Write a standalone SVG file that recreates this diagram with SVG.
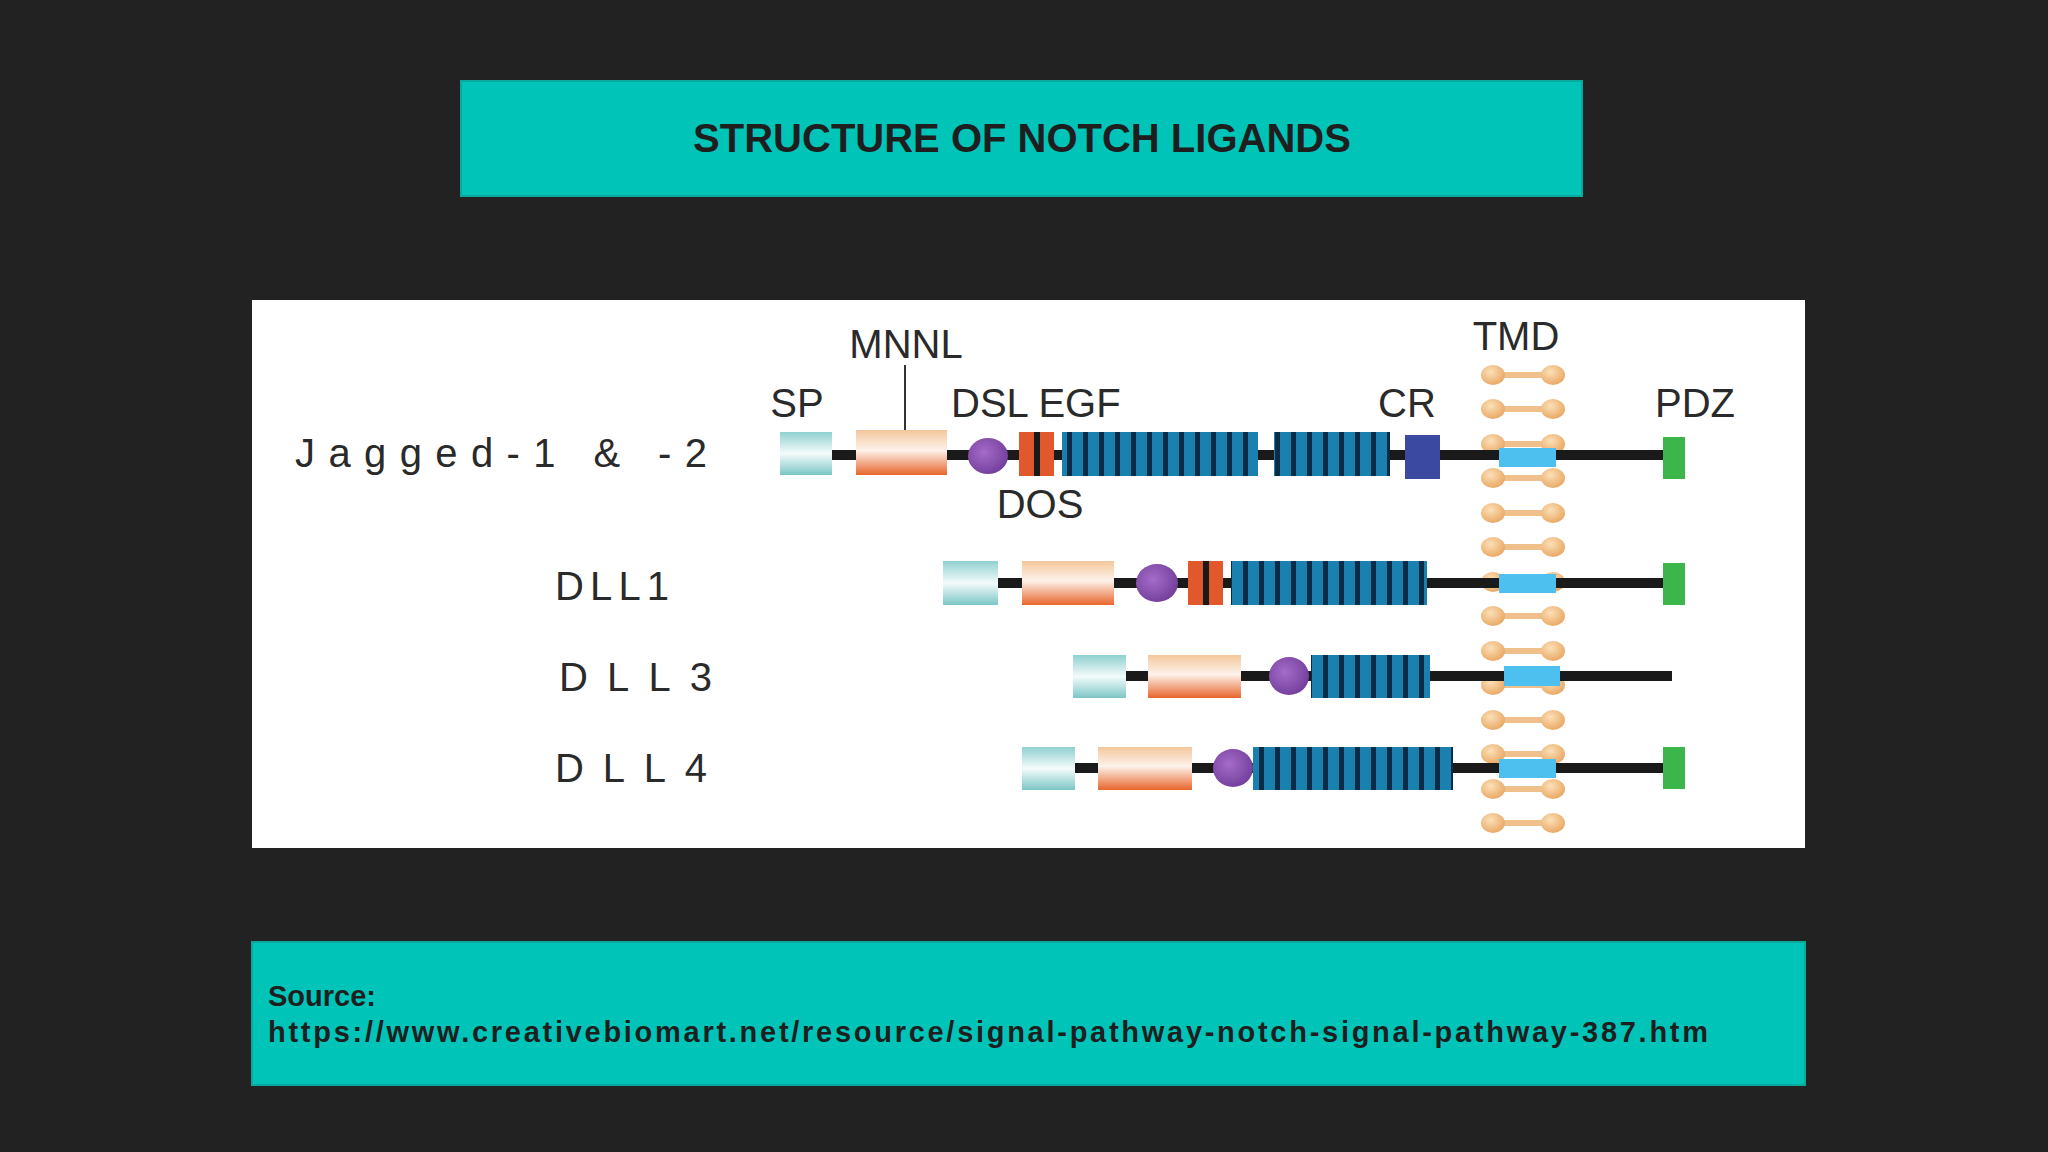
<svg xmlns="http://www.w3.org/2000/svg" width="2048" height="1152" viewBox="0 0 2048 1152">
<defs>
<linearGradient id="gSP" x1="0" y1="0" x2="0" y2="1"><stop offset="0" stop-color="#8fd0cf"/><stop offset="0.5" stop-color="#f4fbfb"/><stop offset="1" stop-color="#7cc6c6"/></linearGradient>
<linearGradient id="gMN" x1="0" y1="0" x2="0" y2="1"><stop offset="0" stop-color="#f4c79c"/><stop offset="0.45" stop-color="#fdf2ea"/><stop offset="1" stop-color="#e8652c"/></linearGradient>
<radialGradient id="gDOS" cx="0.4" cy="0.4" r="0.7"><stop offset="0" stop-color="#a56cc8"/><stop offset="1" stop-color="#6e3a98"/></radialGradient>
<pattern id="stripes" patternUnits="userSpaceOnUse" width="16" height="10"><rect width="16" height="10" fill="#1a80b0"/><rect x="11" width="5" height="10" fill="#0b2c44"/></pattern>
<radialGradient id="gBall" cx="0.4" cy="0.35" r="0.7"><stop offset="0" stop-color="#fbe0b8"/><stop offset="1" stop-color="#e9a560"/></radialGradient>
<g id="lipid"><rect x="1493" y="-3" width="60" height="6" fill="#f0c08c"/><ellipse cx="1493" cy="0" rx="12" ry="10" fill="url(#gBall)"/><ellipse cx="1553" cy="0" rx="12" ry="10" fill="url(#gBall)"/></g>
</defs>
<style>
.lbl{font-family:"Liberation Sans",Arial,sans-serif;font-size:40px;fill:#2a2a2a}
.bb{fill:#1a1a1a}
.ttl{font-family:"Liberation Sans",Arial,sans-serif;font-weight:bold;fill:#1e1e1e}
</style>
<rect width="2048" height="1152" fill="#222223"/>
<g id="title"><rect x="461" y="81" width="1121" height="115" fill="#00c4b8" stroke="#0aa99e" stroke-width="2"/><text class="ttl" x="1022" y="152" font-size="40" text-anchor="middle">STRUCTURE OF NOTCH LIGANDS</text></g>
<g id="panel"><rect x="252" y="300" width="1553" height="548" fill="#ffffff"/></g>
<g id="membrane">
<use href="#lipid" y="375"/><use href="#lipid" y="409"/><use href="#lipid" y="444"/><use href="#lipid" y="478"/><use href="#lipid" y="513"/><use href="#lipid" y="547"/><use href="#lipid" y="582"/><use href="#lipid" y="616"/><use href="#lipid" y="651"/><use href="#lipid" y="685"/><use href="#lipid" y="720"/><use href="#lipid" y="754"/><use href="#lipid" y="789"/><use href="#lipid" y="823"/>
</g>
<g id="labels">
<text class="lbl" x="906" y="358" text-anchor="middle">MNNL</text>
<line x1="905" y1="365" x2="905" y2="430" stroke="#333" stroke-width="2"/>
<text class="lbl" x="1516" y="350" text-anchor="middle">TMD</text>
<text class="lbl" x="797" y="417" text-anchor="middle">SP</text>
<text class="lbl" x="951" y="417">DSL EGF</text>
<text class="lbl" x="1407" y="417" text-anchor="middle">CR</text>
<text class="lbl" x="1695" y="417" text-anchor="middle">PDZ</text>
<text class="lbl" x="1040" y="518" text-anchor="middle">DOS</text>
<text class="lbl" x="295" y="467" textLength="412">Jagged-1 &amp; -2</text>
<text class="lbl" x="555" y="600" textLength="114">DLL1</text>
<text class="lbl" x="559" y="691" textLength="153">DLL3</text>
<text class="lbl" x="555" y="782" textLength="152">DLL4</text>
</g>
<g id="jagged">
<rect class="bb" x="820" y="450" width="845" height="10"/>
<rect x="780" y="432" width="52" height="43" fill="url(#gSP)"/>
<rect x="856" y="430" width="91" height="45" fill="url(#gMN)"/>
<ellipse cx="988" cy="456" rx="20" ry="18" fill="url(#gDOS)"/>
<rect x="1019" y="432" width="35" height="44" fill="#e0582c"/><rect x="1034" y="432" width="6" height="44" fill="#1a1a1a"/>
<rect x="1062" y="432" width="196" height="44" fill="url(#stripes)"/>
<rect x="1274" y="432" width="116" height="44" fill="url(#stripes)"/>
<rect x="1405" y="435" width="35" height="44" fill="#3b4aa0"/>
<rect x="1499" y="448" width="57" height="19" fill="#4dc0ef"/>
<rect x="1663" y="437" width="22" height="42" fill="#3cb54a"/>
</g>
<g id="dll1">
<rect class="bb" x="990" y="578" width="675" height="10"/>
<rect x="943" y="561" width="55" height="44" fill="url(#gSP)"/>
<rect x="1022" y="561" width="92" height="44" fill="url(#gMN)"/>
<ellipse cx="1157" cy="583" rx="21" ry="19" fill="url(#gDOS)"/>
<rect x="1188" y="561" width="35" height="44" fill="#e0582c"/><rect x="1203" y="561" width="6" height="44" fill="#1a1a1a"/>
<rect x="1231" y="561" width="196" height="44" fill="url(#stripes)"/>
<rect x="1499" y="574" width="57" height="19" fill="#4dc0ef"/>
<rect x="1663" y="563" width="22" height="42" fill="#3cb54a"/>
</g>
<g id="dll3">
<rect class="bb" x="1120" y="671" width="552" height="10"/>
<rect x="1073" y="655" width="53" height="43" fill="url(#gSP)"/>
<rect x="1148" y="655" width="93" height="43" fill="url(#gMN)"/>
<ellipse cx="1289" cy="676" rx="20" ry="19" fill="url(#gDOS)"/>
<rect x="1311" y="655" width="119" height="43" fill="url(#stripes)"/>
<rect x="1504" y="666" width="56" height="20" fill="#4dc0ef"/>
</g>
<g id="dll4">
<rect class="bb" x="1070" y="763" width="595" height="10"/>
<rect x="1022" y="747" width="53" height="43" fill="url(#gSP)"/>
<rect x="1098" y="747" width="94" height="43" fill="url(#gMN)"/>
<ellipse cx="1233" cy="768" rx="20" ry="19" fill="url(#gDOS)"/>
<rect x="1253" y="747" width="200" height="43" fill="url(#stripes)"/>
<rect x="1499" y="759" width="57" height="19" fill="#4dc0ef"/>
<rect x="1663" y="747" width="22" height="42" fill="#3cb54a"/>
</g>
<g id="source"><rect x="252" y="942" width="1553" height="143" fill="#00c4b8" stroke="#0aa99e" stroke-width="2"/>
<text class="ttl" x="268" y="1006" font-size="29">Source:</text>
<text class="ttl" x="268" y="1042" font-size="29" textLength="1440">https://www.creativebiomart.net/resource/signal-pathway-notch-signal-pathway-387.htm</text></g>
</svg>
